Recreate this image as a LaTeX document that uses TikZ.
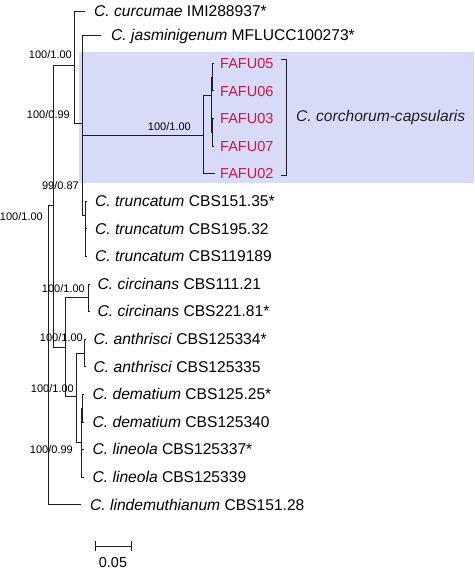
\documentclass[tikz,border=0pt]{standalone}
\usepackage{fontspec}
\setmainfont{Liberation Sans}
\usepackage[svgnames]{xcolor}
\usepackage{tikz}
\usetikzlibrary{positioning}
\definecolor{cladeShade}{RGB}{216,219,247}
\definecolor{strainRed}{RGB}{204,22,74}
\colorlet{branchColor}{black!88}

\begin{document}
\begin{tikzpicture}[
  x=1pt,
  y=-1pt,
  branch/.style={
    draw=branchColor,
    line width=0.85pt,
  },
  taxon/.style={
    anchor=west,
    inner sep=0pt,
    text height=10.5pt,
    text depth=0pt,
    font=\fontsize{15.6}{18}\selectfont,
  },
  strain/.style={
    taxon,
    text=strainRed,
    font=\fontsize{14.5}{17}\selectfont,
  },
  support/.style={
    anchor=east,
    inner sep=0pt,
    font=\fontsize{11}{13}\selectfont,
  },
]
\useasboundingbox (0,0) rectangle (474,570);
\fill[cladeShade] (79,52) rectangle (474,183);
% internal nodes
\coordinate (R) at (48,355);
\coordinate (N1) at (53,205);
\coordinate (A) at (74,65);
\coordinate (B) at (82,123);
\coordinate (E) at (203,135);
\coordinate (F) at (211,95);
\coordinate (F1) at (212.5,77);
\coordinate (F2) at (212.5,132);
\coordinate (D) at (85,215);
\coordinate (G) at (65,347);
\coordinate (H) at (88,297);
\coordinate (I) at (76,396);
\coordinate (J) at (84,353);
\coordinate (K) at (81,442);
\coordinate (L) at (82.5,408);
% tips
\coordinate (curc) at (85,11);
\coordinate (jasm) at (101,35.6);
\coordinate (fafu5) at (213.5,63.2);
\coordinate (fafu6) at (213.5,90.8);
\coordinate (fafu3) at (213.5,118.4);
\coordinate (fafu7) at (213.5,146);
\coordinate (fafu2) at (215,173.6);
\coordinate (trun1) at (87,201.2);
\coordinate (trun2) at (87,228.8);
\coordinate (trun3) at (87,256.4);
\coordinate (circ1) at (89.5,284);
\coordinate (circ2) at (89.5,311.6);
\coordinate (anth1) at (85.5,339.2);
\coordinate (anth2) at (85.5,366.8);
\coordinate (dema1) at (83.5,394.4);
\coordinate (dema2) at (83.5,422);
\coordinate (line1) at (83.5,449.6);
\coordinate (line2) at (83.5,477.2);
\coordinate (lind) at (81,504.8);
% branches
\draw[branch] (R) |- (N1) (R) |- (lind);
\draw[branch] (N1) |- (A) (N1) |- (G);
\draw[branch] (A) |- (curc) (A) |- (B);
\draw[branch] (B) |- (jasm) (B) |- (E) (B) |- (D);
\draw[branch] (E) |- (F) (E) |- (fafu2);
\draw[branch] (F) |- (F1) (F) |- (F2);
\draw[branch] (F1) |- (fafu5) (F1) |- (fafu6);
\draw[branch] (F2) |- (fafu3) (F2) |- (fafu7);
\draw[branch] (D) |- (trun1) (D) |- (trun2) (D) |- (trun3);
\draw[branch] (G) |- (H) (G) |- (I);
\draw[branch] (H) |- (circ1) (H) |- (circ2);
\draw[branch] (I) |- (J) (I) |- (K);
\draw[branch] (J) |- (anth1) (J) |- (anth2);
\draw[branch] (K) |- (L) (K) |- (line1) (K) |- (line2);
\draw[branch] (L) |- (dema1) (L) |- (dema2);
% taxa
\node[taxon, right=9pt of curc] (curcL) {\textit{C. curcumae} IMI288937*};
\node[taxon, right=10pt of jasm] (jasmL) {\textit{C. jasminigenum} MFLUCC100273*};
\node[strain] (fafu5L) at (220,63.2) {FAFU05};
\node[strain] (fafu6L) at (220,90.8) {FAFU06};
\node[strain] (fafu3L) at (220,118.4) {FAFU03};
\node[strain] (fafu7L) at (220,146) {FAFU07};
\node[strain] (fafu2L) at (220,173.6) {FAFU02};
\node[taxon, right=8pt of trun1] (trun1L) {\textit{C. truncatum} CBS151.35*};
\node[taxon, right=8pt of trun2] (trun2L) {\textit{C. truncatum} CBS195.32};
\node[taxon, right=8pt of trun3] (trun3L) {\textit{C. truncatum} CBS119189};
\node[taxon, right=8pt of circ1] (circ1L) {\textit{C. circinans} CBS111.21};
\node[taxon, right=8pt of circ2] (circ2L) {\textit{C. circinans} CBS221.81*};
\node[taxon, right=8pt of anth1] (anth1L) {\textit{C. anthrisci} CBS125334*};
\node[taxon, right=8pt of anth2] (anth2L) {\textit{C. anthrisci} CBS125335};
\node[taxon, right=9pt of dema1] (dema1L) {\textit{C. dematium} CBS125.25*};
\node[taxon, right=9pt of dema2] (dema2L) {\textit{C. dematium} CBS125340};
\node[taxon, right=9pt of line1] (line1L) {\textit{C. lineola} CBS125337*};
\node[taxon, right=9pt of line2] (line2L) {\textit{C. lineola} CBS125339};
\node[taxon, right=9pt of lind] (lindL) {\textit{C. lindemuthianum} CBS151.28};
% clade bracket
\coordinate (bTop) at (286,59);
\coordinate (bBot) at (286,175);
\draw[branch] ([xshift=-5pt]bTop) -- (bTop) -- (bBot) -- ([xshift=-5pt]bBot);
\node[taxon, text=branchColor] (cladeL) at (296,116) {\textit{C. corchorum-capsularis}};
% supports
\node[support] (sA) at (72,55) {100/1.00};
\node[support] (sB) at (70,115) {100/0.99};
\node[support] (sC) at (79,186) {99/0.87};
\node[support] (sN) at (43,217) {100/1.00};
\node[support] (sE) at (191,127) {100/1.00};
\node[support] (sH) at (85,289) {100/1.00};
\node[support] (sJ) at (83,338) {100/1.00};
\node[support] (sI) at (74,389) {100/1.00};
\node[support] (sK) at (73,450) {100/0.99};
% scale bar
\coordinate (sbL) at (95,546);
\coordinate (sbR) at (131,546);
\draw[branch] ([yshift=-5pt]sbL) -- ([yshift=5pt]sbL) (sbL) -- (sbR) ([yshift=-5pt]sbR) -- ([yshift=5pt]sbR);
\node[font=\fontsize{14.4}{16}\selectfont, inner sep=0pt] (sbLabel) at (113,563) {0.05};
\end{tikzpicture}
\end{document}
